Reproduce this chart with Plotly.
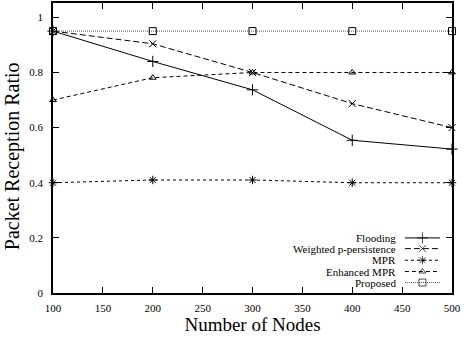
import plotly.graph_objects as go

nodes = [100, 200, 300, 400, 500]
flooding = [0.95, 0.84, 0.737, 0.554, 0.522]
weighted = [0.95, 0.904, 0.80, 0.687, 0.60]
mpr = [0.40, 0.41, 0.41, 0.40, 0.40]
enhanced_mpr = [0.70, 0.781, 0.80, 0.80, 0.80]
proposed = [0.95, 0.95, 0.95, 0.95, 0.95]

names = ["Flooding", "Weighted p-persistence", "MPR", "Enhanced MPR", "Proposed"]
series = [flooding, weighted, mpr, enhanced_mpr, proposed]
symbols = ["cross-thin-open", "x-thin-open", "asterisk-open", "triangle-up-open", "square-open"]
dashes = ["solid", "6px,3px", "3px,3px", "4px,3px", "1px,1px"]
colors = ["black", "black", "black", "black", "#555555"]
msizes = [8, 7, 7, 6, 7]

FONT = "Liberation Serif"

fig = go.Figure()
for n, s, sym, d, c, ms in zip(names, series, symbols, dashes, colors, msizes):
    fig.add_trace(go.Scatter(
        x=nodes, y=s, mode="lines+markers", name=n,
        line=dict(color=c, width=1, dash=d),
        marker=dict(symbol=sym, size=ms, color="black", line=dict(color="black", width=1)),
        showlegend=False, cliponaxis=False,
    ))

# manual legend (text right-aligned, key on the right, gnuplot style)
leg_y = [0.190, 0.153, 0.113, 0.074, 0.036]
key_x0, key_x1, key_xm, text_x = 0.882, 0.970, 0.926, 0.865
for n, ly, sym, d, c, ms in zip(names, leg_y, symbols, dashes, colors, msizes):
    fig.add_trace(go.Scatter(
        x=[key_x0, key_xm, key_x1], y=[ly, ly, ly], mode="lines+markers",
        xaxis="x2", yaxis="y2", showlegend=False, hoverinfo="skip",
        line=dict(color=c, width=1, dash=d),
        marker=dict(symbol=sym, size=[0, ms, 0], color="black", line=dict(color="black", width=1)),
    ))
    fig.add_annotation(x=text_x, y=ly, xref="x2", yref="y2", text=n, showarrow=False,
                       xanchor="right", yanchor="middle",
                       font=dict(family=FONT, size=11, color="black"))

fig.add_annotation(x=-0.1015, y=0.47, xref="paper", yref="paper", text="Packet Reception Ratio",
                   textangle=-90, showarrow=False, xanchor="center", yanchor="middle",
                   font=dict(family=FONT, size=20, color="black"))

axis_common = dict(
    showgrid=False, zeroline=False, showline=True, linecolor="black", linewidth=1.5,
    mirror="allticks", ticks="inside", ticklen=6, tickcolor="black", tickwidth=1,
    tickfont=dict(family=FONT, size=11, color="black"),
)

fig.update_layout(
    width=474, height=355,
    margin=dict(l=53, r=22, t=1, b=62),
    plot_bgcolor="white", paper_bgcolor="white",
    xaxis=dict(range=[100, 500], tickvals=[100, 150, 200, 250, 300, 350, 400, 450, 500],
               title=dict(text="Number of Nodes", font=dict(family=FONT, size=19, color="black"), standoff=4),
               ticklabelstandoff=4, **axis_common),
    yaxis=dict(range=[0, 1.052], tickvals=[0, 0.2, 0.4, 0.6, 0.8, 1],
               ticklabelstandoff=6, **axis_common),
    xaxis2=dict(overlaying="x", range=[0, 1], visible=False, fixedrange=True),
    yaxis2=dict(overlaying="y", range=[0, 1], visible=False, fixedrange=True),
    showlegend=False,
)

fig.write_html("out.html")
